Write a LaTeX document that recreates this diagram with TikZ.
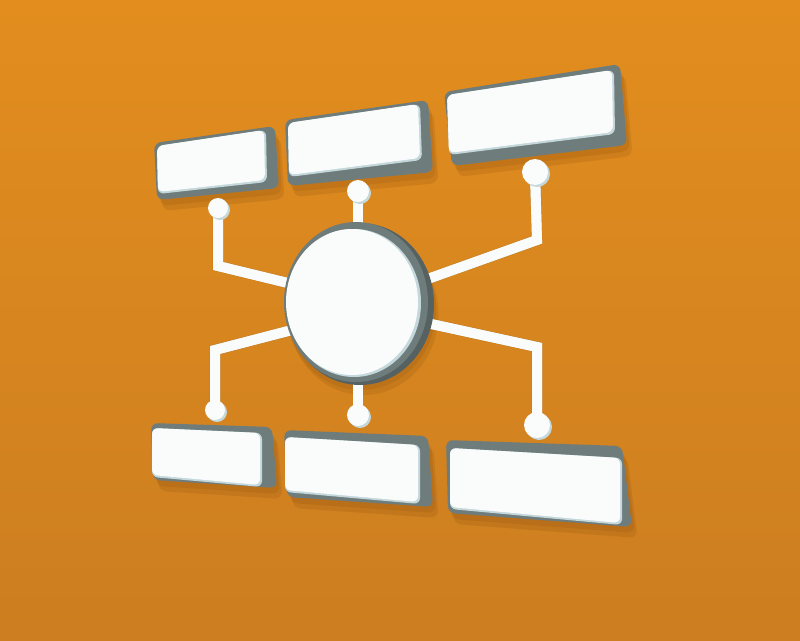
\documentclass[tikz,border=0pt]{standalone}
\usetikzlibrary{calc}
\definecolor{bgtop}{RGB}{226,141,30}
\definecolor{bgbot}{RGB}{204,126,32}
\definecolor{frame}{RGB}{111,124,124}
\definecolor{framedark}{RGB}{86,98,98}
\definecolor{face}{RGB}{250,252,252}
\definecolor{faceedge}{RGB}{196,216,220}
\definecolor{shade}{RGB}{140,78,12}
\begin{document}
\begin{tikzpicture}[x=1pt,y=-1pt,
    boxframe/.style={fill=frame,rounded corners=7pt},
    boxedge/.style={fill=faceedge,rounded corners=6pt},
    boxface/.style={fill=face,rounded corners=6pt},
    drop/.style={fill=shade,opacity=0.18,rounded corners=8pt},
    wire/.style={draw=face,line width=10pt,line join=miter},
    wireedge/.style={draw=faceedge,line width=10pt,line join=miter},
    wireshade/.style={draw=shade,opacity=0.2,line width=11pt},
    dot/.style={fill=face}]
  \useasboundingbox (0,0) rectangle (800,640);
  \shade[top color=bgtop,bottom color=bgbot] (0,0) rectangle (800,640);

  % connector points
  \coordinate (tl-dot) at (218,208); \coordinate (tl-bend) at (218,266); \coordinate (tl-end) at (292,284);
  \coordinate (tm-dot) at (358,191); \coordinate (tm-end) at (358,235);
  \coordinate (tr-dot) at (535,172); \coordinate (tr-bend) at (537,240); \coordinate (tr-end) at (422,281);
  \coordinate (bl-dot) at (215,410); \coordinate (bl-bend) at (215,350); \coordinate (bl-end) at (292,330);
  \coordinate (bm-dot) at (358,415); \coordinate (bm-end) at (358,370);
  \coordinate (br-dot) at (537,425); \coordinate (br-bend) at (537,347); \coordinate (br-end) at (422,322);

  % shadows
  \foreach \d in {6,11}{
    \fill[drop,shift={(\d*0.5,\d)}] (154,143) -- (275,126) -- (279,188) -- (157,200) -- cycle;
    \fill[drop,shift={(\d*0.5,\d)}] (285,120) -- (428,100) -- (433,172) -- (288,186) -- cycle;
    \fill[drop,shift={(\d*0.5,\d)}] (444,92) -- (620,64) -- (627,145) -- (452,166) -- cycle;
    \fill[drop,shift={(\d*0.5,\d)}] (151,423) -- (272,427) -- (277,488) -- (153,480) -- cycle;
    \fill[drop,shift={(\d*0.5,\d)}] (284,430) -- (428,436) -- (433,507) -- (287,497) -- cycle;
    \fill[drop,shift={(\d*0.5,\d)}] (446,440) -- (622,446) -- (632,527) -- (448,513) -- cycle;
    \fill[drop,shift={(\d*0.5,\d)}] (358,303) ellipse (75 and 81);
  }
  \draw[wireshade,shift={(5,9)}] (tl-dot) -- (tl-bend) -- (tl-end);
  \draw[wireshade,shift={(5,9)}] (tr-dot) -- (tr-bend) -- (tr-end);
  \draw[wireshade,shift={(5,9)}] (bl-dot) -- (bl-bend) -- (bl-end);
  \draw[wireshade,shift={(5,9)}] (br-dot) -- (br-bend) -- (br-end);

  % connectors
  \draw[wireedge,shift={(2,2)}] (tl-dot) -- (tl-bend) -- (tl-end);
  \draw[wireedge,shift={(2,2)}] (tm-dot) -- (tm-end);
  \draw[wireedge,shift={(2,2)}] (tr-dot) -- (tr-bend) -- (tr-end);
  \draw[wireedge,shift={(2,2)}] (bl-dot) -- (bl-bend) -- (bl-end);
  \draw[wireedge,shift={(2,2)}] (bm-dot) -- (bm-end);
  \draw[wireedge,shift={(2,2)}] (br-dot) -- (br-bend) -- (br-end);
  \draw[wire] (tl-dot) -- (tl-bend) -- (tl-end);
  \draw[wire] (tm-dot) -- (tm-end);
  \draw[wire] (tr-dot) -- (tr-bend) -- (tr-end);
  \draw[wire] (bl-dot) -- (bl-bend) -- (bl-end);
  \draw[wire] (bm-dot) -- (bm-end);
  \draw[wire] (br-dot) -- (br-bend) -- (br-end);
  \fill[faceedge] ($(tl-dot)+(2,2)$) circle (10); \fill[dot] (tl-dot) circle (10);
  \fill[faceedge] ($(tm-dot)+(2,2)$) circle (11); \fill[dot] (tm-dot) circle (11);
  \fill[faceedge] ($(tr-dot)+(2,2)$) circle (13); \fill[dot] (tr-dot) circle (13);
  \fill[faceedge] ($(bl-dot)+(2,2)$) circle (10); \fill[dot] (bl-dot) circle (10);
  \fill[faceedge] ($(bm-dot)+(2,2)$) circle (11); \fill[dot] (bm-dot) circle (11);
  \fill[faceedge] ($(br-dot)+(2,2)$) circle (13); \fill[dot] (br-dot) circle (13);

  % centre disc
  \fill[framedark] (360,304) ellipse (74 and 81);
  \fill[frame] (356,302) ellipse (72 and 80);
  \fill[faceedge] (354,303) ellipse (67 and 74);
  \fill[face] (352,302) ellipse (66 and 73);

  % top boxes
  \fill[boxframe] (154,143) -- (275,126) -- (279,188) -- (157,200) -- cycle;
  \fill[boxedge] (157,146) -- (266,130) -- (267,182) -- (158,194) -- cycle;
  \fill[boxface] (157,146) -- (264,130) -- (265,180) -- (158,192) -- cycle;

  \fill[boxframe] (285,120) -- (428,100) -- (433,172) -- (288,186) -- cycle;
  \fill[boxedge] (288,123) -- (420,104) -- (422,160) -- (289,177) -- cycle;
  \fill[boxface] (288,123) -- (418,104) -- (420,158) -- (289,175) -- cycle;

  \fill[boxframe] (444,92) -- (620,64) -- (627,145) -- (452,166) -- cycle;
  \fill[boxedge] (447,95) -- (614,70) -- (615,134) -- (449,155) -- cycle;
  \fill[boxface] (447,95) -- (612,70) -- (613,132) -- (449,153) -- cycle;

  % bottom boxes
  \fill[boxframe] (151,423) -- (272,427) -- (277,488) -- (153,480) -- cycle;
  \fill[boxedge] (152,428) -- (262,433) -- (262,487) -- (152,477) -- cycle;
  \fill[boxface] (152,428) -- (260,433) -- (260,485) -- (152,475) -- cycle;

  \fill[boxframe] (284,430) -- (428,436) -- (433,507) -- (287,497) -- cycle;
  \fill[boxedge] (285,437) -- (420,445) -- (420,504) -- (285,492) -- cycle;
  \fill[boxface] (285,437) -- (418,445) -- (418,502) -- (285,490) -- cycle;

  \fill[boxframe] (446,440) -- (622,446) -- (632,527) -- (448,513) -- cycle;
  \fill[boxedge] (450,448) -- (622,458) -- (622,525) -- (450,509) -- cycle;
  \fill[boxface] (450,448) -- (620,458) -- (620,523) -- (450,507) -- cycle;
\end{tikzpicture}
\end{document}
